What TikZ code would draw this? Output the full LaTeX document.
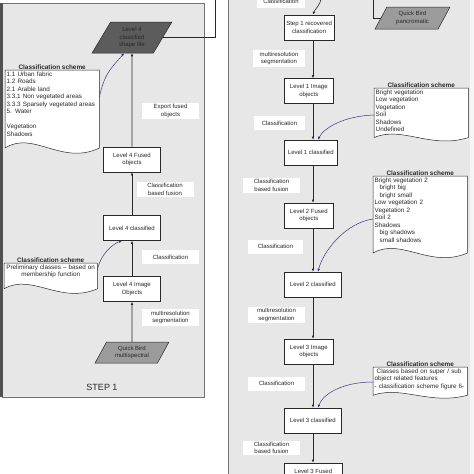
\documentclass[tikz,border=0pt]{standalone}
\usepackage{fontspec}
\setmainfont{Liberation Sans}
\usepackage{tikz}
\usetikzlibrary{arrows.meta, positioning, shapes.geometric, calc}

\definecolor{panelgray}{RGB}{231,231,231}
\definecolor{framegray}{RGB}{115,115,115}
\definecolor{shpgray}{RGB}{92,92,92}
\definecolor{birdgray}{RGB}{155,155,155}
\definecolor{schemeblue}{RGB}{58,58,120}
\definecolor{inkgray}{RGB}{40,40,40}

\pgfdeclarelayer{panels}
\pgfdeclarelayer{docs}
\pgfsetlayers{panels,docs,main}

\newcommand{\smallfont}{\fontsize{6}{7.5}\selectfont}
\newcommand{\docfont}{\fontsize{6.3}{7.5}\selectfont}
% document outline below a scheme node: node, extra depth, wave height
\newcommand{\docwave}[3]{%
  \begin{pgfonlayer}{docs}
  \draw[docline] ($(#1.south west)+(0,#2)$) -- (#1.north west) -- (#1.north east) -- ($(#1.south east)+(0,#2)$)
    .. controls ($(#1.south east)!0.4!(#1.south west)+(0,#2+#3)$) and ($(#1.south east)!0.7!(#1.south west)+(0,#2-#3)$)
    .. ($(#1.south west)+(0,#2)$) -- cycle;
  \end{pgfonlayer}}

\begin{document}
\begin{tikzpicture}[
    x=1pt, y=-1pt,
    box/.style={draw=inkgray, fill=white, line width=0.6pt, minimum width=49, minimum height=25, align=center, font=\smallfont, text=inkgray, inner sep=2pt},
    lbl/.style={fill=white, align=center, font=\smallfont, text=inkgray, minimum width=57, minimum height=14, inner sep=1.5pt},
    doc/.style={align=left, font=\docfont, text=inkgray, inner sep=1.5pt, anchor=north west},
    doctitle/.style={font=\fontsize{6.4}{7.5}\selectfont\bfseries, text=inkgray, inner sep=0.5pt},
    docline/.style={draw=inkgray, fill=white, line width=0.5pt},
    data/.style={trapezium, trapezium left angle=62, trapezium right angle=118, trapezium stretches=true, draw=inkgray, line width=0.5pt, align=center, font=\smallfont, text=inkgray, inner sep=1pt},
    line/.style={draw=inkgray, line width=0.6pt},
    arr/.style={-{Latex[length=3pt,width=2.6pt]}, line width=0.6pt, draw=inkgray},
    sch/.style={-{Latex[length=3pt,width=2.6pt]}, line width=0.5pt, draw=schemeblue}
]
    \useasboundingbox (0,0) rectangle (474,474);

    % Panels
    \begin{pgfonlayer}{panels}
    \fill[white] (0,0) rectangle (474,474);
    \filldraw[fill=panelgray, draw=framegray, line width=0.6pt] (2,3) rectangle (204,397);
    \draw[framegray!70!black, line width=2.5pt] (1.5,3) -- (1.5,397);
    \filldraw[fill=panelgray, draw=framegray, line width=0.6pt] (228,-5) rectangle (470,480);
    \fill[gray!8] (470.4,-5) rectangle (480,480);
    \end{pgfonlayer}

    % STEP 1 column
    \node[data, fill=shpgray, minimum width=80, minimum height=31] (shp) at (132,37.5) {Level 4\\classified\\shape file};
    \node[box, minimum width=57] (fus4) at (132,159.5) {Level 4 Fused\\objects};
    \node[box, minimum width=57] (cls4) at (132,228) {Level 4 classified};
    \node[box, minimum width=57] (img4) at (132,289) {Level 4 Image\\Objects};
    \node[data, fill=birdgray, minimum width=74, minimum height=21] (qbm) at (132,352.5) {Quick Bird\\multispectral};

    \draw[arr] (qbm.north) -- (img4.south);
    \draw[arr] (img4.north) -- (cls4.south);
    \draw[arr] (cls4.north) -- (fus4.south);
    \draw[arr] (fus4.north) -- (shp.south);

    \node[lbl] (l-exp) at (170.5,111) {Export fused\\objects};
    \node[lbl] (l-cbf4) at (165,189.5) {Classification\\based fusion};
    \node[lbl] (l-cl4) at (170.5,257) {Classification};
    \node[lbl] (l-mrs4) at (170.5,317.5) {multiresolution\\segmentation};

    \node[font=\fontsize{9}{11}\selectfont, text=inkgray] (step1) at (102,387) {STEP 1};

    % STEP 1 schemes
    \node[doc, text width=91] (sch1) at (5,70) {1.1 Urban fabric\\1.2 Roads\\2.1 Arable land\\3.3.1 Non vegetated areas\\3.3.3 Sparsely vegetated areas\\5. Water\\[7.5pt]Vegetation\\Shadows};
    \node[doctitle, above=0pt of sch1] (sch1t) {Classification scheme};
    \docwave{sch1}{10}{18}
    \draw[sch] ($(sch1.north east)+(0,27)$) .. controls +(5,-25) and +(-10,12) .. ($(shp.south)+(-8,0)$);

    \node[doc, align=center, text width=90] (sch2) at (4,263) {Preliminary classes -- based on\\membership function};
    \node[doctitle, above=0pt of sch2] (sch2t) {Classification scheme};
    \docwave{sch2}{9}{16}
    \draw[sch] ($(sch2.north east)+(0,7)$) .. controls +(3,-16) and +(-9,3) .. ($(cls4.south)+(-10,0)$);

    % link out of the top
    \coordinate (outL) at (215,-3);
    \draw[line] (shp.east) -| (outL);

    % Second column
    \coordinate (col) at (313,0);
    \node[box, anchor=west] (s1) at (284,27.5) {Step 1 recovered\\classification};
    \node[box, anchor=west] (img1) at (284,91) {Level 1 Image\\objects};
    \node[box, anchor=west, minimum width=53] (cls1) at (284,152.5) {Level 1 classified};
    \node[box, anchor=west] (fus2) at (284,215.5) {Level 2 Fused\\objects};
    \node[box, anchor=west, minimum width=57] (cls2) at (284,284.5) {Level 2 classified};
    \node[box, anchor=west] (img3) at (284,351.5) {Level 3 Image\\objects};
    \node[box, anchor=west, minimum width=57] (cls3) at (284,420.5) {Level 3 classified};
    \node[box, anchor=west, minimum width=58] (fus3) at (284,475.5) {Level 3 Fused\\objects};

    \coordinate (inR) at (321,-3);
    \draw[arr] (inR) .. controls +(0,8) and +(2,-6) .. (s1.north -| col);
    \draw[arr] (s1.south -| col) -- (img1.north -| col);
    \draw[arr] (img1.south -| col) -- (cls1.north -| col);
    \draw[arr] (cls1.south -| col) -- (fus2.north -| col);
    \draw[arr] (fus2.south -| col) -- (cls2.north -| col);
    \draw[arr] (cls2.south -| col) -- (img3.north -| col);
    \draw[arr] (img3.south -| col) -- (cls3.north -| col);
    \draw[arr] (cls3.south -| col) -- (fus3.north -| col);

    \node[lbl, minimum width=48] (r-cl0) at (281,1) {Classification};
    \node[lbl, minimum width=52] (r-mrs1) at (279,58.5) {multiresolution\\segmentation};
    \node[lbl, minimum width=51] (r-cl1) at (279.5,123) {Classification};
    \node[lbl] (r-cbf2) at (271.5,185.5) {Classification\\based fusion};
    \node[lbl, minimum width=55] (r-cl2) at (275.5,246.5) {Classification};
    \node[lbl] (r-mrs3) at (276.5,315) {multiresolution\\segmentation};
    \node[lbl] (r-cl3) at (276.5,383.5) {Classification};
    \node[lbl] (r-cbf3) at (271.5,448) {Classification\\based fusion};

    % Pancromatic input
    \node[data, fill=birdgray, minimum width=75, minimum height=22] (qbp) at (412.5,18) {Quick Bird\\pancromatic};
    \coordinate (outP) at (373,-3);
    \draw[line] (qbp.west) -| (outP);

    % Second column schemes
    \node[doc, text width=91] (sr1) at (374,88) {Bright vegetation\\Low vegetation\\Vegetation\\Soil\\Shadows\\Undefined};
    \node[doctitle, above=0pt of sr1] (sr1t) {Classification scheme};
    \docwave{sr1}{4}{12}
    \draw[sch] ($(sr1.north west)+(0,27)$) .. controls +(-30,1) and +(6,-12) .. ($(cls1.north -| col)+(5,0)$);

    \node[doc, text width=91] (sr2) at (373,176) {Bright vegetation 2\\\hspace*{5pt}bright big\\\hspace*{5pt}bright small\\Low vegetation 2\\Vegetation 2\\Soil 2\\Shadows\\\hspace*{5pt}big shadows\\\hspace*{5pt}small shadows};
    \node[doctitle, above=0pt of sr2] (sr2t) {Classification scheme};
    \docwave{sr2}{9}{16}
    \draw[sch] ($(sr2.north west)+(0,43)$) .. controls +(-28,4) and +(5,-20) .. ($(cls2.north -| col)+(5,0)$);

    \node[doc, text width=91] (sr3) at (373,367) {\hspace*{2pt}Classes based on super / sub\\object related features\\- classification scheme figure 6-};
    \node[doctitle, above=0pt of sr3] (sr3t) {Classification scheme};
    \docwave{sr3}{4}{10}
    \draw[sch] ($(sr3.north west)+(0,15)$) .. controls +(-30,0) and +(5,-14) .. ($(cls3.north -| col)+(5,0)$);

\end{tikzpicture}
\end{document}
